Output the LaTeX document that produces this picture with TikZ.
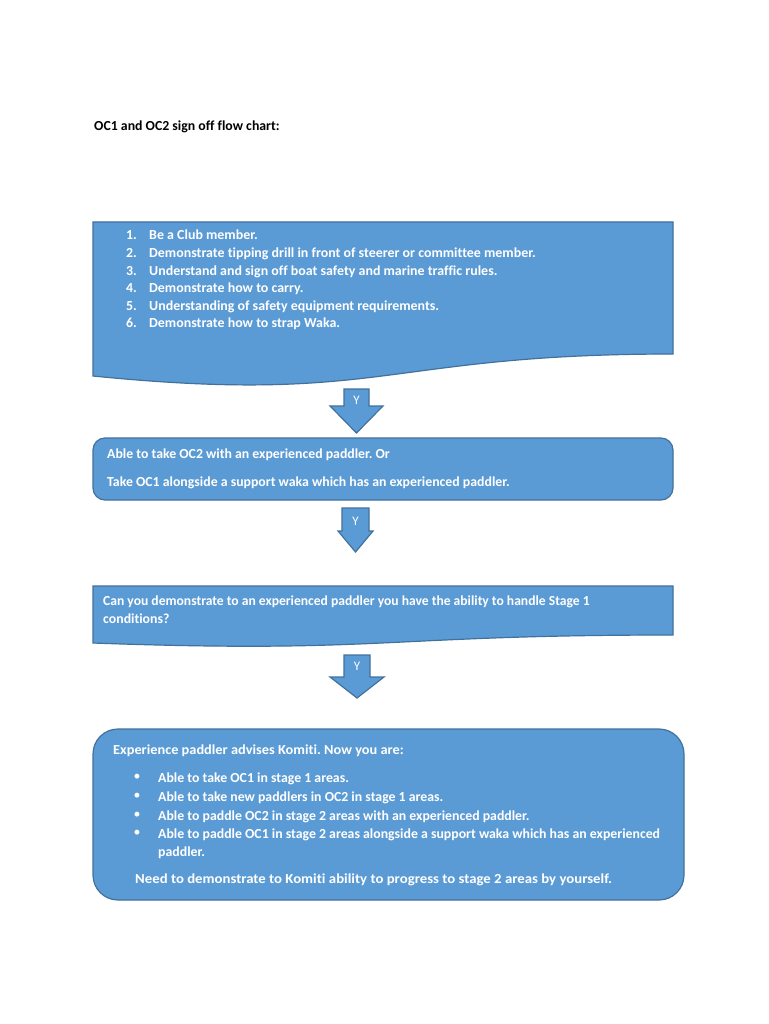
\documentclass[tikz,border=0pt]{standalone}
\usepackage{fontspec}
\setmainfont{Carlito}[Ligatures=NoCommon]
\definecolor{boxfill}{HTML}{5B9BD5}
\definecolor{boxline}{HTML}{41719C}
\begin{document}
\frenchspacing
\begin{tikzpicture}[x=1pt,y=-1pt,
  shapebox/.style={fill=boxfill,draw=boxline,line width=1.2pt},
  txt/.style={anchor=base west,inner sep=0pt,text=white,font=\fontsize{13.8}{17}\selectfont\bfseries},
  bul/.style={anchor=center,inner sep=0pt,text=white,font=\fontsize{13.8}{17}\selectfont},
  ylab/.style={anchor=center,inner sep=0pt,text=white,font=\fontsize{13}{15}\selectfont}]
\useasboundingbox[fill=white] (0,0) rectangle (768,1024);

% title
\node[anchor=base west,inner sep=0pt,font=\fontsize{13.8}{17}\selectfont\bfseries] (title) at (94,131) {OC1 and OC2 sign off flow chart:};

% box 1 (document shape)
\draw[shapebox] (93,222) -- (673,222) -- (673,354) .. controls (383,354) and (383,405) .. (93,376) -- cycle;
\foreach \n/\t [count=\i] in {1./Be a Club member.,
  2./Demonstrate tipping drill in front of steerer or committee member.,
  3./Understand and sign off boat safety and marine traffic rules.,
  4./Demonstrate how to carry.,
  5./Understanding of safety equipment requirements.,
  6./Demonstrate how to strap Waka.}{
  \node[txt] (n\i) at (126,{222.5+17.5*\i}) {\n};
  \node[txt] (t\i) at (149,{222.5+17.5*\i}) {\scalebox{1.01}[1]{\t}};
}

% arrow 1
\draw[shapebox] (344,389) -- (369,389) -- (369,406) -- (383,406) -- (356.5,433) -- (330,406) -- (344,406) -- cycle;
\node[ylab] (y1) at (356.5,400) {Y};

% box 2
\draw[shapebox,rounded corners=12] (93,438) rectangle (673,500);
\node[txt] (b2a) at (107,458) {Able to take OC2 with an experienced paddler. Or};
\node[txt] (b2b) at (107,486) {Take OC1 alongside a support waka which has an experienced paddler.};

% arrow 2
\draw[shapebox] (342,508) -- (369,508) -- (369,531) -- (373,531) -- (355.5,552) -- (338,531) -- (342,531) -- cycle;
\node[ylab] (y2) at (355.5,521) {Y};

% box 3
\draw[shapebox] (93,586) -- (673,586) -- (673,635) .. controls (383,635) and (383,653.5) .. (93,643) -- cycle;
\node[txt] (b3a) at (103,605) {\scalebox{0.985}[1]{Can you demonstrate to an experienced paddler you have the ability to handle Stage 1}};
\node[txt] (b3b) at (103,623) {conditions?};

% arrow 3
\draw[shapebox] (344,655) -- (370,655) -- (370,677) -- (384,677) -- (357,698) -- (330,677) -- (344,677) -- cycle;
\node[ylab] (y3) at (357,666) {Y};

% box 4
\draw[shapebox,rounded corners=25] (93,729) rectangle (684,900);
\node[txt] (b4h) at (113,754) {\scalebox{1.04}[1]{Experience paddler advises Komiti. Now you are:}};
\foreach \t/\yy [count=\i] in {Able to take OC1 in stage 1 areas./782,
  Able to take new paddlers in OC2 in stage 1 areas./801,
  Able to paddle OC2 in stage 2 areas with an experienced paddler./820,
  Able to paddle OC1 in stage 2 areas alongside a support waka which has an experienced/838}{
  \node[bul] (bu\i) at (137,\yy-4.5) {\textbullet};
  \node[txt] (bt\i) at (158,\yy) {\t};
}
\node[txt] (bt5) at (158,856) {paddler.};
\node[txt] (b4f) at (135,883) {\scalebox{1.07}[1]{Need to demonstrate to Komiti ability to progress to stage 2 areas by yourself.}};
\end{tikzpicture}
\end{document}
